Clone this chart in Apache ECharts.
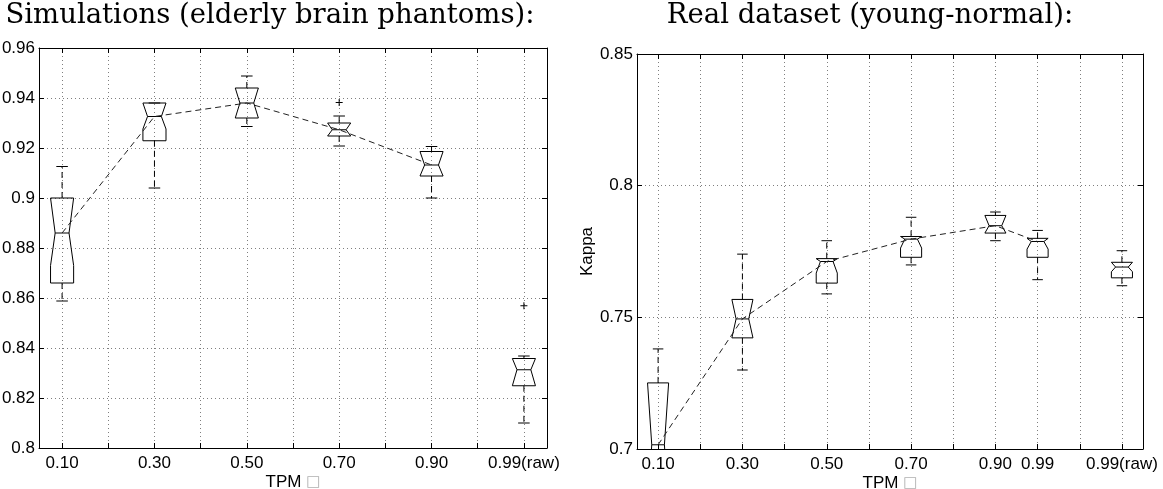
<!DOCTYPE html>
<html>
<head>
<meta charset="utf-8">
<script src="https://cdn.jsdelivr.net/npm/echarts@6/dist/echarts.min.js"></script>
<style>
  html, body { margin: 0; padding: 0; background: #fff; }
  #main { width: 1163px; height: 489px; }
</style>
</head>
<body>
<div id="main"></div>
<script>
// left panel: simulations (elderly brain phantoms)
const posL = [0.1, 0.3, 0.5, 0.7, 0.9, 1.1];
const labelsL = ['0.10', '0.30', '0.50', '0.70', '0.90', '0.99(raw)'];
const ticksL = [0.1, 0.2, 0.3, 0.4, 0.5, 0.6, 0.7, 0.8, 0.9, 1.0, 1.1];
const whiskerLoL = [0.8588, 0.9040, 0.9286, 0.9208, 0.9000, 0.8100];
const q1L        = [0.8660, 0.9229, 0.9320, 0.9248, 0.9088, 0.8249];
const notchLoL   = [0.8730, 0.9276, 0.9320, 0.9248, 0.9088, 0.8249];
const medianL    = [0.8860, 0.9326, 0.9380, 0.9273, 0.9132, 0.8313];
const notchHiL   = [0.9000, 0.9380, 0.9440, 0.9300, 0.9186, 0.8358];
const q3L        = [0.9000, 0.9380, 0.9440, 0.9300, 0.9186, 0.8358];
const whiskerHiL = [0.9126, 0.9380, 0.9488, 0.9328, 0.9206, 0.8368];
const outliersL  = [[0.7, 0.9382], [1.1, 0.8569]];
const trendL     = [0.8860, 0.9326, 0.9380, 0.9273, 0.9132];

// right panel: real dataset (young-normal)
const posR = [0.1, 0.3, 0.5, 0.7, 0.9, 1.0, 1.2];
const labelsR = ['0.10', '0.30', '0.50', '0.70', '0.90', '0.99', '0.99(raw)'];
const ticksR = [0.1, 0.2, 0.3, 0.4, 0.5, 0.6, 0.7, 0.8, 0.9, 1.0, 1.1, 1.2];
const whiskerLoR = [0.6600, 0.7300, 0.7589, 0.7699, 0.7791, 0.7643, 0.7620];
const q1R        = [0.6750, 0.7422, 0.7630, 0.7728, 0.7820, 0.7728, 0.7650];
const notchLoR   = [0.6780, 0.7422, 0.7668, 0.7763, 0.7820, 0.7759, 0.7673];
const medianR    = [0.7016, 0.7494, 0.7712, 0.7797, 0.7848, 0.7788, 0.7691];
const notchHiR   = [0.7251, 0.7568, 0.7723, 0.7807, 0.7887, 0.7800, 0.7709];
const q3R        = [0.7251, 0.7568, 0.7723, 0.7807, 0.7887, 0.7800, 0.7709];
const whiskerHiR = [0.7380, 0.7740, 0.7791, 0.7880, 0.7900, 0.7830, 0.7753];
const trendR     = [0.7016, 0.7494, 0.7712, 0.7797, 0.7848, 0.7788];

const chart = echarts.init(document.getElementById('main'));

function boxRows(pos, wLo, q1, nLo, med, nHi, q3, wHi) {
  return pos.map((x, i) => [x, wLo[i], q1[i], nLo[i], med[i], nHi[i], q3[i], wHi[i]]);
}

// notched box like matlab boxplot
function renderBox(params, api) {
  const x = api.value(0);
  const wLo = api.value(1), q1 = api.value(2), nLo = api.value(3), med = api.value(4);
  const nHi = api.value(5), q3 = api.value(6), wHi = api.value(7);
  const hw = 0.025, nw = hw * 0.6, cw = hw * 0.5;
  const P = (dx, y) => api.coord([x + dx, y]);
  const seg = (a, b, dash) => ({
    type: 'line',
    shape: { x1: a[0], y1: a[1], x2: b[0], y2: b[1] },
    style: { stroke: '#000', lineWidth: 1, lineDash: dash || null }
  });
  const outline = [P(-hw, q1), P(-hw, nLo), P(-nw, med), P(-hw, nHi), P(-hw, q3),
                   P(hw, q3), P(hw, nHi), P(nw, med), P(hw, nLo), P(hw, q1)];
  const children = [
    { type: 'polygon', shape: { points: outline }, style: { stroke: '#000', fill: null, lineWidth: 1 } },
    seg(P(-nw, med), P(nw, med)),
    seg(P(0, q3), P(0, wHi), [6, 4]),
    seg(P(0, q1), P(0, wLo), [6, 4]),
    seg(P(-cw, wHi), P(cw, wHi)),
    seg(P(-cw, wLo), P(cw, wLo))
  ];
  return { type: 'group', children };
}

function renderPlus(params, api) {
  const c = api.coord([api.value(0), api.value(1)]);
  const s = 3.5;
  const st = { stroke: '#000', lineWidth: 1 };
  return {
    type: 'group',
    children: [
      { type: 'line', shape: { x1: c[0] - s, y1: c[1], x2: c[0] + s, y2: c[1] }, style: st },
      { type: 'line', shape: { x1: c[0], y1: c[1] - s, x2: c[0], y2: c[1] + s }, style: st }
    ]
  };
}

const labelFont = { fontFamily: 'Liberation Sans', fontSize: 17, color: '#000' };
const gridLine = { show: true, lineStyle: { color: '#7f7f7f', type: [1, 3], width: 1 } };
const blackLine = { show: true, onZero: false, lineStyle: { color: '#000', width: 1 } };

function pickLabel(pos, labels) {
  return v => {
    const i = pos.findIndex(p => Math.abs(p - v) < 1e-6);
    return i < 0 ? '' : labels[i];
  };
}

function xAxes(grid, min, max, ticks, pos, labels) {
  return [{
    type: 'value', gridIndex: grid, min: min, max: max, position: 'bottom',
    axisLine: blackLine,
    axisTick: { show: true, inside: true, length: 5, customValues: ticks, lineStyle: { color: '#000' } },
    axisLabel: Object.assign({ customValues: pos, margin: 7, formatter: pickLabel(pos, labels) }, labelFont),
    splitLine: gridLine,
    name: 'TPM {g|□}', nameLocation: 'middle', nameGap: 26, nameMoveOverlap: false,
    nameTextStyle: Object.assign({ rich: { g: { color: '#b0b0b0', fontSize: 15, fontFamily: 'DejaVu Sans' } } }, labelFont)
  }, {
    type: 'value', gridIndex: grid, min: min, max: max, position: 'top',
    axisLine: blackLine,
    axisTick: { show: true, inside: true, length: 5, customValues: ticks, lineStyle: { color: '#000' } },
    axisLabel: { show: false },
    splitLine: { show: false }
  }];
}

function yAxes(grid, min, max, step, name) {
  return [{
    type: 'value', gridIndex: grid, min: min, max: max, interval: step, position: 'left',
    axisLine: blackLine,
    axisTick: { show: true, inside: true, length: 5, lineStyle: { color: '#000' } },
    axisLabel: Object.assign({ margin: 4 }, labelFont),
    splitLine: gridLine,
    name: name || '', nameLocation: 'middle', nameGap: 41, nameMoveOverlap: false,
    nameTextStyle: labelFont
  }, {
    type: 'value', gridIndex: grid, min: min, max: max, interval: step, position: 'right',
    axisLine: blackLine,
    axisTick: { show: true, inside: true, length: 5, lineStyle: { color: '#000' } },
    axisLabel: { show: false },
    splitLine: { show: false }
  }];
}

const titleFont = '27.5px "DejaVu Serif"';

const option = {
  animation: false,
  backgroundColor: '#fff',
  graphic: [
    { type: 'text', x: 270, y: 16, style: { text: 'Simulations (elderly brain phantoms):', font: titleFont, fill: '#000', textAlign: 'center', textVerticalAlign: 'middle' } },
    { type: 'text', x: 870, y: 16, style: { text: 'Real dataset (young-normal):', font: titleFont, fill: '#000', textAlign: 'center', textVerticalAlign: 'middle' } }
  ],
  grid: [
    { left: 39, top: 48, width: 508, height: 400, outerBoundsMode: 'none' },
    { left: 637, top: 54, width: 506, height: 395, outerBoundsMode: 'none' }
  ],
  xAxis: xAxes(0, 0.05, 1.15, ticksL, posL, labelsL).concat(xAxes(1, 0.05, 1.25, ticksR, posR, labelsR)),
  yAxis: yAxes(0, 0.8, 0.96, 0.02).concat(yAxes(1, 0.7, 0.85, 0.05, 'Kappa')),
  series: [
    {
      type: 'custom', xAxisIndex: 0, yAxisIndex: 0, clip: true,
      encode: { x: 0, y: [1, 2, 3, 4, 5, 6, 7] },
      renderItem: renderBox,
      data: boxRows(posL, whiskerLoL, q1L, notchLoL, medianL, notchHiL, q3L, whiskerHiL)
    },
    {
      type: 'custom', xAxisIndex: 0, yAxisIndex: 0, clip: true,
      encode: { x: 0, y: 1 },
      renderItem: renderPlus,
      data: outliersL
    },
    {
      type: 'line', xAxisIndex: 0, yAxisIndex: 0, symbol: 'none',
      lineStyle: { color: '#222', width: 1, type: [6, 4] },
      data: posL.slice(0, trendL.length).map((x, i) => [x, trendL[i]])
    },
    {
      type: 'custom', xAxisIndex: 2, yAxisIndex: 2, clip: true,
      encode: { x: 0, y: [1, 2, 3, 4, 5, 6, 7] },
      renderItem: renderBox,
      data: boxRows(posR, whiskerLoR, q1R, notchLoR, medianR, notchHiR, q3R, whiskerHiR)
    },
    {
      type: 'line', xAxisIndex: 2, yAxisIndex: 2, symbol: 'none', clip: true,
      lineStyle: { color: '#222', width: 1, type: [6, 4] },
      data: posR.slice(0, trendR.length).map((x, i) => [x, trendR[i]])
    }
  ]
};

chart.setOption(option);
</script>
</body>
</html>
